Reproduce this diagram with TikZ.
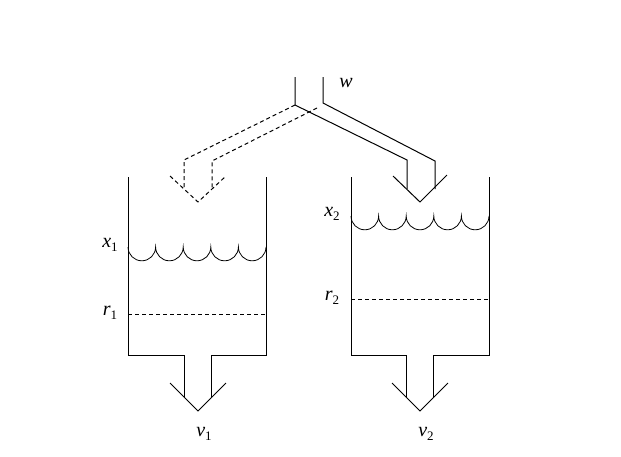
\documentclass[tikz,border=0pt]{standalone}
\usepackage{fontspec}
\setmainfont{Liberation Serif}
\newcommand{\lab}[2]{\textit{#1}\raisebox{-0.45ex}{\fontsize{13}{13}\selectfont #2}}
\begin{document}
\begin{tikzpicture}[x=1pt,y=-1pt,line width=1pt,
  lbl/.style={font=\fontsize{20}{20}\selectfont},
  dsh/.style={dashed,dash pattern=on 4pt off 3pt}]
\useasboundingbox (0,0) rectangle (621,456);
% tank 1
\draw (128,177) -- (128,355) -- (184,355) -- (184,397);
\draw (266,177) -- (266,355) -- (211,355) -- (211,397);
\draw (170,383) -- (198,411) -- (226,383);
\draw[line width=0.8pt] (128,247) \foreach \i in {0,...,4}{ arc[start angle=180,end angle=0,radius=13.8] };
\draw[dsh,line width=0.8pt] (128,314) -- (266,314);
\node[lbl] (x1) at (110,245) {\lab{x}{1}};
\node[lbl] (r1) at (110,313) {\lab{r}{1}};
\node[lbl] (v1) at (204,434) {\lab{v}{1}};
% tank 2
\draw (351,177) -- (351,355) -- (406,355) -- (406,397);
\draw (489,177) -- (489,355) -- (433,355) -- (433,397);
\draw (392,383) -- (420,411) -- (448,383);
\draw[line width=0.8pt] (351,216) \foreach \i in {0,...,4}{ arc[start angle=180,end angle=0,radius=13.8] };
\draw[dsh,line width=0.8pt] (351,299) -- (489,299);
\node[lbl] (x2) at (332,214) {\lab{x}{2}};
\node[lbl] (r2) at (332,298) {\lab{r}{2}};
\node[lbl] (v2) at (426,434) {\lab{v}{2}};
% inlet
\draw (295,77) -- (295,105) -- (407,160) -- (407,189);
\draw (323,77) -- (323,103) -- (435,161) -- (435,189);
\draw (393,176) -- (420,202) -- (447,175);
\draw[dsh] (295,105) -- (184,160) -- (184,190);
\draw[dsh] (317,108) -- (212,161) -- (212,188);
\draw[dsh] (170,176) -- (198,202) -- (226,176);
\node[lbl] (w) at (346,83) {\textit{w}};
\end{tikzpicture}
\end{document}
